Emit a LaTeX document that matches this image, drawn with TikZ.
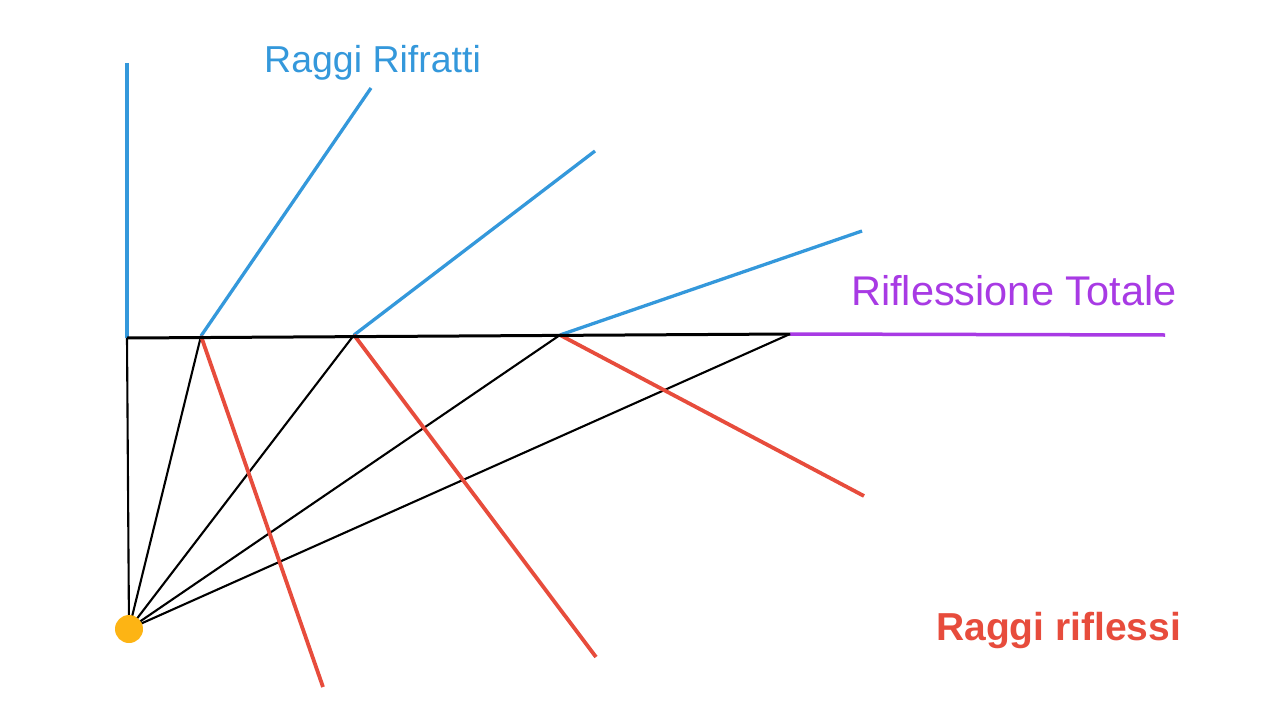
\documentclass[tikz,border=0pt]{standalone}
\usepackage{fontspec}
\setmainfont{Liberation Sans}
\definecolor{rayblue}{RGB}{52,152,219}
\definecolor{rayred}{RGB}{231,76,60}
\definecolor{raypurple}{RGB}{168,58,228}
\definecolor{srcorange}{RGB}{253,180,20}
\begin{document}
\begin{tikzpicture}[x=1pt,y=-1pt,
  inc/.style={black,line width=2.1pt},
  surf/.style={black,line width=3pt},
  refr/.style={rayblue,line width=3.3pt},
  refl/.style={rayred,line width=3.8pt},
  tot/.style={raypurple,line width=3.5pt},
  lbl/.style={inner sep=0pt,anchor=base west}]
\useasboundingbox (0,0) rectangle (1280,720);
\coordinate (S) at (129,629);
\coordinate (O) at (127,338);
\coordinate (A) at (201,336);
\coordinate (B) at (354,335);
\coordinate (C) at (560,335);
\coordinate (D) at (790,334);
\coordinate (Ot) at (127,63);
\coordinate (At) at (371,88);
\coordinate (Bt) at (595,151);
\coordinate (Ct) at (862,231);
\coordinate (Dt) at (1165,335);
\coordinate (Ar) at (323,687);
\coordinate (Br) at (596,657);
\coordinate (Cr) at (864,496);
% refracted
\draw[refr] (O) -- (Ot);
\draw[refr] (A) -- (At);
\draw[refr] (B) -- (Bt);
\draw[refr] (C) -- (Ct);
% total reflection
\draw[tot] (D) -- (Dt);
% incident rays
\draw[inc] (S) -- (O);
\draw[inc] (S) -- (A);
\draw[inc] (S) -- (B);
\draw[inc] (S) -- (C);
\draw[inc] (S) -- (D);
% reflected
\draw[refl] (A) -- (Ar);
\draw[refl] (B) -- (Br);
\draw[refl] (C) -- (Cr);
% surface
\draw[surf] (O) -- (D);
% source
\node[circle,fill=srcorange,minimum size=28pt,inner sep=0pt] (src) at (S) {};
% labels
\node[lbl,text=rayblue,font=\fontsize{37.5}{42}\selectfont] (l1) at (264,72) {Raggi Rifratti};
\node[lbl,text=raypurple,font=\fontsize{41.5}{46}\selectfont] (l2) at (851,305) {Riflessione Totale};
\node[lbl,text=rayred,font=\fontsize{39}{46}\selectfont\bfseries] (l3) at (936,640) {Raggi riflessi};
\end{tikzpicture}
\end{document}
